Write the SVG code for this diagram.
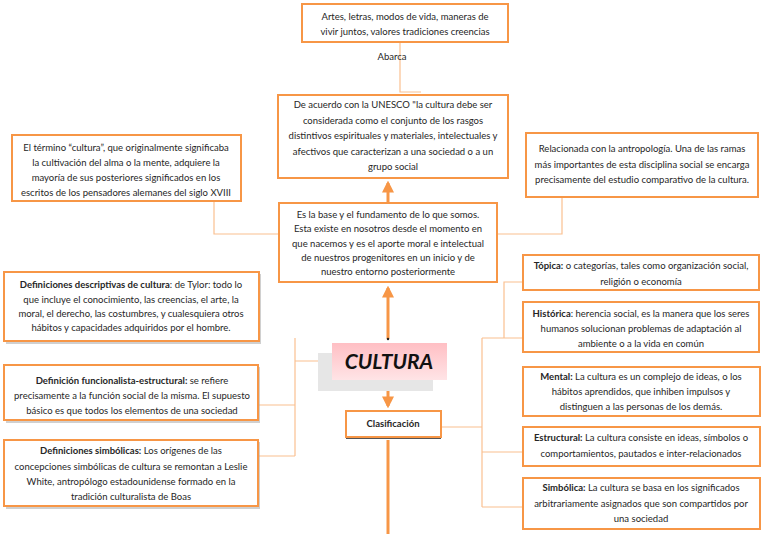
<svg xmlns="http://www.w3.org/2000/svg" width="768" height="534" viewBox="0 0 768 534">
<defs>
<style>
.box{fill:#ffffff;stroke:#F79646;stroke-width:2}
.shadow{fill:#b0b0b0;opacity:0.6}
.t{font-family:Lato,"Liberation Sans",sans-serif;font-size:9.5px;fill:#262626;text-anchor:middle}
.b{font-weight:bold}
.thin{fill:none;stroke:#FAC090;stroke-width:1.2}
.thick{fill:none;stroke:#F79646;stroke-width:3}
</style>
<linearGradient id="pink" x1="0" y1="0" x2="0" y2="1">
<stop offset="0" stop-color="#FFBFC4"/>
<stop offset="1" stop-color="#FFE4E6"/>
</linearGradient>
<marker id="ah" viewBox="0 0 10 10" refX="8" refY="5" markerWidth="4" markerHeight="4" orient="auto">
<path d="M0,0 L10,5 L0,10 z" fill="#F79646"/>
</marker>
</defs>
<rect width="768" height="534" fill="#ffffff"/>

<g id="connectors">
<polyline class="thin" points="400,42 400,92 421,92"/>
<polyline class="thin" points="214,201 214,234 279,234"/>
<polyline class="thin" points="562,197 562,234 497,234"/>
<polyline class="thin" points="295,338 295,456"/>
<line class="thin" x1="295" y1="361" x2="332" y2="361"/>
<line class="thin" x1="258" y1="405" x2="295" y2="405"/>
<line class="thin" x1="258" y1="456" x2="295" y2="456"/>
<polyline class="thin" points="482,338 482,507"/>
<line class="thin" x1="441" y1="427" x2="482" y2="427"/>
<line class="thin" x1="482" y1="338" x2="523" y2="338"/>
<polyline class="thin" points="504,338 504,282 523,282"/>
<line class="thin" x1="482" y1="452" x2="523" y2="452"/>
<line class="thin" x1="482" y1="507" x2="523" y2="507"/>
<line class="thick" x1="388" y1="204" x2="388" y2="183" marker-end="url(#ah)"/>
<line class="thick" x1="388" y1="339" x2="388" y2="288" marker-end="url(#ah)"/>
<line class="thick" x1="388" y1="380" x2="388" y2="406" marker-end="url(#ah)"/>
<line class="thick" x1="388" y1="440" x2="388" y2="534"/>
<circle cx="388" cy="204" r="1.2" fill="#222"/>
<circle cx="388" cy="339" r="1.2" fill="#222"/>
</g>

<g id="n-abarca-top">
<rect class="box" x="302" y="4" width="206" height="38"/>
<text class="t" x="405" y="19.5">Artes, letras, modos de vida, maneras de</text>
<text class="t" x="405" y="34.5">vivir juntos, valores tradiciones creencias</text>
</g>

<g id="n-abarca-label">
<text class="t" x="392" y="60">Abarca</text>
</g>

<g id="n-unesco">
<rect class="box" x="278" y="95" width="230" height="83"/>
<text class="t" x="393" y="108">De acuerdo con la UNESCO "la cultura debe ser</text>
<text class="t" x="393" y="123.5">considerada como el conjunto de los rasgos</text>
<text class="t" x="393" y="139">distintivos espirituales y materiales, intelectuales y</text>
<text class="t" x="393" y="154.5">afectivos que caracterizan a una sociedad o a un</text>
<text class="t" x="393" y="170">grupo social</text>
</g>

<g id="n-termino">
<rect class="box" x="12" y="135" width="229" height="66"/>
<text class="t" x="126" y="150.5">El término “cultura”, que originalmente significaba</text>
<text class="t" x="126" y="165.5">la cultivación del alma o la mente, adquiere la</text>
<text class="t" x="126" y="180.5">mayoría de sus posteriores significados en los</text>
<text class="t" x="126" y="195.5">escritos de los pensadores alemanes del siglo XVIII</text>
</g>

<g id="n-antropologia">
<rect class="box" x="526" y="133" width="232" height="64"/>
<text class="t" x="642" y="151.5">Relacionada con la antropología. Una de las ramas</text>
<text class="t" x="642" y="167.5">más importantes de esta disciplina social se encarga</text>
<text class="t" x="642" y="182.5">precisamente del estudio comparativo de la cultura.</text>
</g>

<g id="n-base">
<rect class="box" x="279" y="203" width="218" height="79"/>
<text class="t" x="388" y="217.5">Es la base y el fundamento de lo que somos.</text>
<text class="t" x="388" y="231.5">Esta existe en nosotros desde el momento en</text>
<text class="t" x="388" y="246.5">que nacemos y es el aporte moral e intelectual</text>
<text class="t" x="388" y="260.5">de nuestros progenitores en un inicio y de</text>
<text class="t" x="388" y="274.5">nuestro entorno posteriormente</text>
</g>

<g id="n-cultura">
<rect x="318" y="353" width="115" height="38" fill="#e6e6e6"/>
<rect x="332" y="343" width="115" height="37" fill="url(#pink)"/>
<text x="389" y="369" font-family="Lato,'Liberation Sans',sans-serif" font-size="21" font-weight="bold" font-style="italic" fill="#111" text-anchor="middle">CULTURA</text>
</g>

<g id="n-clasificacion">
<rect x="346" y="413" width="95" height="26" fill="#555"/>
<rect class="box" x="346" y="411" width="95" height="26"/>
<text class="t b" x="393" y="427" font-size="9">Clasificación</text>
</g>

<g id="n-descriptivas">
<rect class="shadow" x="6" y="274" width="255" height="70"/>
<rect class="box" x="4" y="272" width="255" height="69"/>
<text class="t" x="131" y="287.5"><tspan class="b">Definiciones descriptivas de cultura</tspan>: de Tylor: todo lo</text>
<text class="t" x="131" y="302.5">que incluye el conocimiento, las creencias, el arte, la</text>
<text class="t" x="131" y="316.5">moral, el derecho, las costumbres, y cualesquiera otros</text>
<text class="t" x="131" y="330.5">hábitos y capacidades adquiridos por el hombre.</text>
</g>

<g id="n-funcionalista">
<rect class="shadow" x="6" y="367" width="254" height="56"/>
<rect class="box" x="4" y="365" width="254" height="55"/>
<text class="t" x="132" y="383.5"><tspan class="b">Definición funcionalista-estructural:</tspan> se refiere</text>
<text class="t" x="132" y="398.5">precisamente a la función social de la misma. El supuesto</text>
<text class="t" x="132" y="413.5">básico es que todos los elementos de una sociedad</text>
</g>

<g id="n-simbolicas">
<rect class="shadow" x="6" y="442" width="254" height="67"/>
<rect class="box" x="4" y="440" width="254" height="66"/>
<text class="t" x="131" y="453.5"><tspan class="b">Definiciones simbólicas:</tspan> Los orígenes de las</text>
<text class="t" x="131" y="469.5">concepciones simbólicas de cultura se remontan a Leslie</text>
<text class="t" x="131" y="484.5">White, antropólogo estadounidense formado en la</text>
<text class="t" x="131" y="499.5">tradición culturalista de Boas</text>
</g>

<g id="n-topica">
<rect class="box" x="523" y="255" width="236" height="35"/>
<text class="t" x="641" y="268.5"><tspan class="b">Tópica:</tspan> o categorías, tales como organización social,</text>
<text class="t" x="641" y="284.5">religión o economía</text>
</g>

<g id="n-historica">
<rect class="box" x="523" y="302" width="236" height="50"/>
<text class="t" x="641" y="316.5"><tspan class="b">Histórica</tspan>: herencia social, es la manera que los seres</text>
<text class="t" x="641" y="331.5">humanos solucionan problemas de adaptación al</text>
<text class="t" x="641" y="346.5">ambiente o a la vida en común</text>
</g>

<g id="n-mental">
<rect class="box" x="523" y="367" width="237" height="49"/>
<text class="t" x="641" y="379.5"><tspan class="b">Mental:</tspan> La cultura es un complejo de ideas, o los</text>
<text class="t" x="641" y="394.5">hábitos aprendidos, que inhiben impulsos y</text>
<text class="t" x="641" y="409.5">distinguen a las personas de los demás.</text>
</g>

<g id="n-estructural">
<rect class="box" x="523" y="427" width="237" height="39"/>
<text class="t" x="641" y="440.5"><tspan class="b">Estructural:</tspan> La cultura consiste en ideas, símbolos o</text>
<text class="t" x="641" y="456.5">comportamientos, pautados e inter-relacionados</text>
</g>

<g id="n-simbolica">
<rect class="box" x="523" y="478" width="237" height="51"/>
<text class="t" x="641" y="490.5"><tspan class="b">Simbólica:</tspan> La cultura se basa en los significados</text>
<text class="t" x="641" y="506.5">arbitrariamente asignados que son compartidos por</text>
<text class="t" x="641" y="521.5">una sociedad</text>
</g>
</svg>
